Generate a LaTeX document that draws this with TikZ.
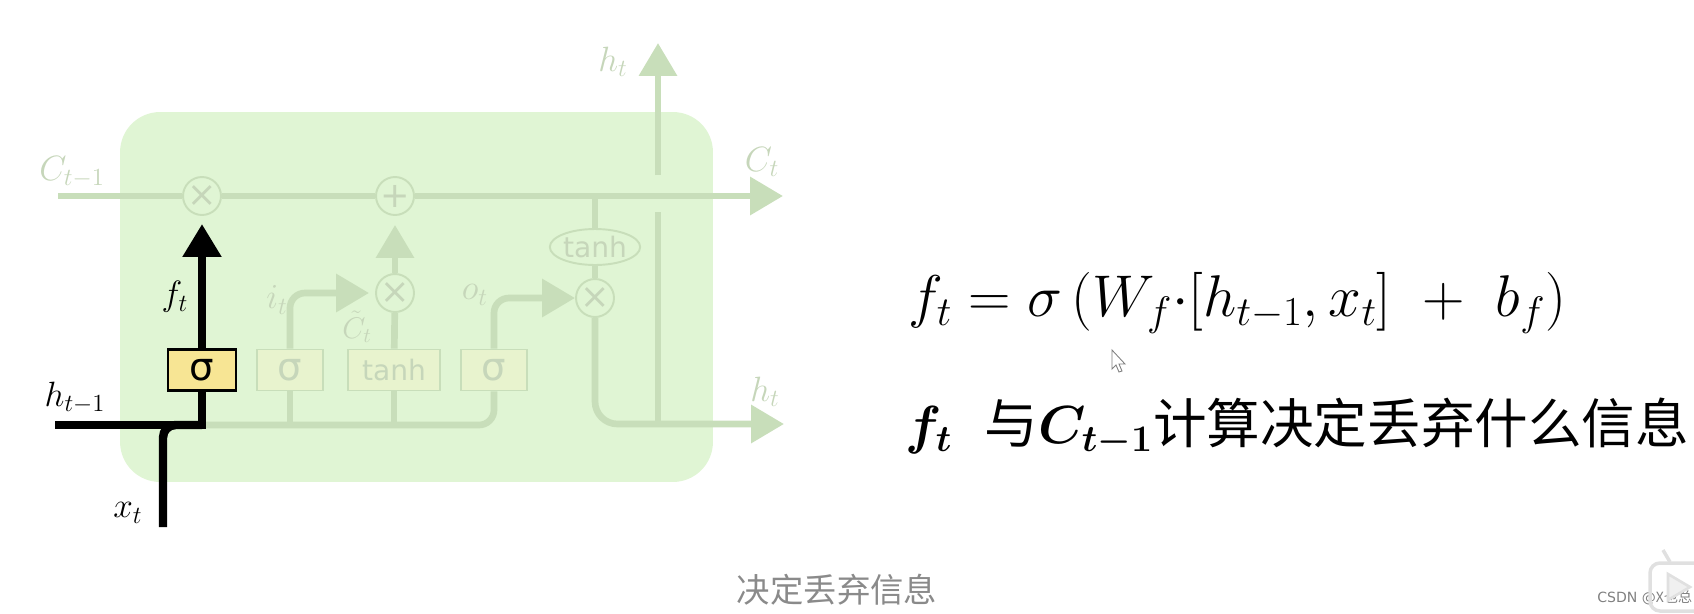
\documentclass[tikz,border=0pt]{standalone}
\usepackage{fix-cm}
\usepackage{fontspec}
\newfontfamily\cjkfont{Noto Sans CJK SC}
\newfontfamily\gatefont{DejaVu Sans}
\usetikzlibrary{arrows.meta,shapes.geometric}
\definecolor{cellgreen}{RGB}{224,245,212}
\definecolor{fadeline}{RGB}{200,222,186}
\definecolor{fadetext}{RGB}{198,214,186}
\definecolor{fadebox}{RGB}{232,243,206}
\definecolor{gateyellow}{RGB}{247,229,148}
\definecolor{capgray}{RGB}{138,138,138}

\begin{document}
\begin{tikzpicture}[x=0.02cm, y=-0.02cm,
        faded/.style={draw=fadeline, line width=3.8pt},
        strong/.style={draw=black, line width=4.8pt},
        bigtip/.style={-{Triangle[length=0.66cm, width=0.74cm]}},
        op/.style={circle, draw=fadeline, line width=1.1pt, fill=cellgreen, minimum size=0.76cm, inner sep=0pt, text=fadetext, font=\gatefont\fontsize{20}{20}\selectfont},
        gatebox/.style={draw=fadeline, line width=1.1pt, fill=fadebox, minimum height=0.82cm, inner sep=0pt, text=fadetext},
        lbl/.style={text=fadetext, font=\fontsize{20}{22}\selectfont},
        blbl/.style={text=black, font=\fontsize{20}{22}\selectfont}]
    \useasboundingbox (0,0) rectangle (1694,613);
    \node (cell) [fill=cellgreen, rounded corners=0.8cm, minimum width=11.86cm, minimum height=7.4cm] at (416.5,297) {};

    % ports
    \coordinate (cin) at (58,196);
    \coordinate (cout) at (783,196);
    \coordinate (hin) at (55,425);
    \coordinate (xin) at (163,527);
    \coordinate (hout) at (784,424);
    \coordinate (hup) at (658,43);

    % pointwise ops and gates
    \node (cf) [op] at (202,196) {×};
    \node (cp) [op] at (395,196) {+};
    \node (ci) [op] at (395,293) {×};
    \node (co) [op] at (595,298) {×};
    \node (fbox) [draw=black, line width=1.3pt, fill=gateyellow, minimum width=1.36cm, minimum height=0.82cm, inner sep=0pt, font=\gatefont\fontsize{22}{22}\selectfont] at (202,370) {σ};
    \node (ibox) [gatebox, minimum width=1.32cm, font=\gatefont\fontsize{22}{22}\selectfont] at (290,370) {σ};
    \node (tbox) [gatebox, minimum width=1.84cm, font=\gatefont\fontsize{16}{16}\selectfont] at (394,370) {tanh};
    \node (obox) [gatebox, minimum width=1.32cm, font=\gatefont\fontsize{22}{22}\selectfont] at (494,370) {σ};
    \node (th) [ellipse, draw=fadeline, line width=1.1pt, fill=cellgreen, minimum width=1.8cm, minimum height=0.72cm, inner sep=0pt, text=fadetext, font=\gatefont\fontsize{16}{16}\selectfont] at (595,247) {tanh};

    % faded paths
    \draw[faded] (cin) -- (cf);
    \draw[faded] (cf) -- (cp);
    \draw[faded, bigtip] (cp) -- (cout);
    \draw[faded, rounded corners=0.3cm] (hin -| fbox) -- (hin -| obox) -- (obox.south);
    \draw[faded] (hin -| ibox) -- (ibox.south);
    \draw[faded] (hin -| tbox) -- (tbox.south);
    \draw[faded, bigtip, rounded corners=0.3cm, shorten >=0.12cm] (ibox.north) |- (ci);
    \draw[faded] (tbox) -- (ci);
    \draw[faded, bigtip, shorten >=0.18cm] (ci) -- (cp);
    \draw[faded, bigtip, rounded corners=0.3cm] (obox.north) |- (co);
    \draw[faded] (th |- cin) -- (th);
    \draw[faded] (th) -- (co);
    \draw[faded, bigtip, rounded corners=0.45cm] (co) |- (hout);
    \draw[faded] (hout -| hup) -- (658,212);
    \draw[faded, bigtip] (658,175) -- (hup);

    % forget gate path
    \draw[strong, rounded corners=0.25cm] (xin) -- (xin |- hin) -- (hin -| fbox);
    \draw[strong] (hin) -- (hin -| fbox) -- (fbox.south);
    \draw[strong, bigtip, shorten >=0.16cm] (fbox) -- (cf);

    % labels
    \node (lcin) [lbl] at (72,172) {$C_{t-1}$};
    \node (lcout) [lbl] at (762,162) {$C_t$};
    \node (lhup) [lbl] at (613,62) {$h_t$};
    \node (lhout) [lbl] at (765,392) {$h_t$};
    \node (lit) [lbl] at (277,300) {$i_t$};
    \node (lct) [lbl, inner sep=0pt, font=\fontsize{17}{19}\selectfont] at (357,327) {$\tilde{C}_t$};
    \node (lot) [lbl] at (475,295) {$o_t$};
    \node (lhin) [blbl] at (75,398) {$h_{t-1}$};
    \node (lxin) [blbl] at (128,513) {$x_t$};
    \node (lft) [blbl] at (175,297) {$f_t$};

    % right side text
    \node (eq) [anchor=west, inner sep=0pt, font=\fontsize{33.5}{37}\selectfont] at (908,303) {$f_t = \sigma\,(W_f{\cdot}[h_{t-1}, x_t]\ +\ b_f)$};
    \node (note) [anchor=base west, inner sep=0pt, font=\fontsize{30.5}{34}\selectfont] at (905,443) {{\boldmath$f_t$}\ \ {\cjkfont 与}{\boldmath$C_{t-1}$}{\cjkfont 计算决定丢弃什么信息}};
    \node (caption) [text=capgray, font=\cjkfont\fontsize{19}{21}\selectfont] at (837,590) {决定丢弃信息};
    \node (mark) [text=gray, font=\gatefont\fontsize{8}{10}\selectfont, anchor=west, inner sep=0pt] at (1597,598) {CSDN @\mbox{\cjkfont X也总}};

    % cursor and player icon
    \draw[gray, fill=white, line width=0.5pt] (1112,350) -- (1112,369) -- (1116,365) -- (1119,372) -- (1122,371) -- (1119,364) -- (1125,364) -- cycle;
    \draw[black!12, line width=2pt, rounded corners=0.2cm] (1698,563) -- (1650,563) -- (1650,611) -- (1698,611);
    \draw[black!12, line width=2pt] (1663,550) -- (1670,562);
    \draw[black!12, fill=black!6, line width=1.5pt] (1668,574) -- (1690,587) -- (1668,600) -- cycle;
\end{tikzpicture}
\end{document}
